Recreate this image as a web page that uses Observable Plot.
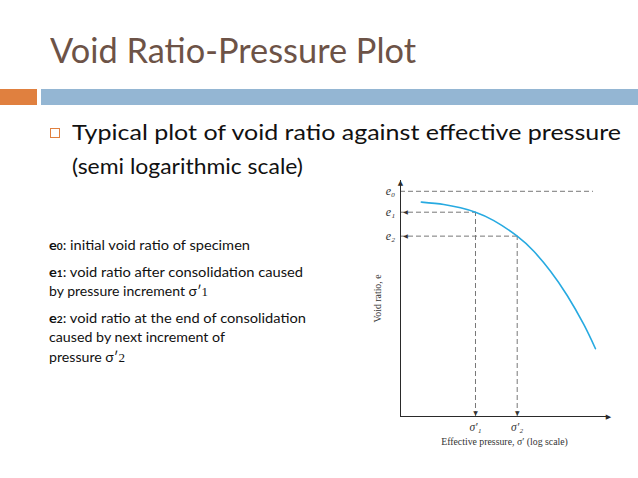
<!DOCTYPE html>
<html>
<head>
<meta charset="utf-8">
<script src="https://cdn.jsdelivr.net/npm/d3@7"></script>
<script src="https://cdn.jsdelivr.net/npm/@observablehq/plot@0.6"></script>
<style>
  html, body { margin: 0; padding: 0; background: #ffffff; width: 638px; height: 478px; overflow: hidden; }
  body { position: relative; font-family: Lato, "Open Sans", "Noto Sans", sans-serif; }
  .t { position: absolute; white-space: nowrap; line-height: 1; transform-origin: 0 0; }
  #title { font-size: 35px; color: #6d5347; }
  .body1 { font-size: 22px; color: #111111; }
  .note { font-size: 13px; color: #111111; }
  .note b { font-weight: 700; }
  .note .sub { font-size: 9px; font-weight: 700; }
  .ser { font-family: "Liberation Serif", "DejaVu Serif", serif; font-size: 12px; }
  #barO { position: absolute; left: 0; top: 89px; width: 37px; height: 16px; background: #e0803f; }
  #barB { position: absolute; left: 41px; top: 89px; width: 597px; height: 16px; background: #94b6d3; }
  #bullet { position: absolute; left: 50px; top: 128px; width: 8px; height: 8px; border: 1.4px solid #e0803f; }
  #chart { position: absolute; left: 340px; top: 170px; }
</style>
</head>
<body>
<div id="title" class="t">Void Ratio-Pressure Plot</div>
<div id="barO"></div>
<div id="barB"></div>
<div id="bullet"></div>
<div id="b1" class="t body1">Typical plot of void ratio against effective pressure</div>
<div id="b2" class="t body1">(semi logarithmic scale)</div>
<div id="n1" class="t note"><b>e</b><span class="sub">0</span>: initial void ratio of specimen</div>
<div id="n2" class="t note"><b>e</b><span class="sub">1</span>: void ratio after consolidation caused</div>
<div id="n3" class="t note">by pressure increment σ′<span class="ser">1</span></div>
<div id="n4" class="t note"><b>e</b><span class="sub">2</span>: void ratio at the end of consolidation</div>
<div id="n5" class="t note">caused by next increment of</div>
<div id="n6" class="t note">pressure σ′<span class="ser">2</span></div>
<div id="chart"></div>
<script>
// ---- data (pressure on log scale, void ratio linear) ----
const pressure  = [2, 4.21, 7.34, 12.07, 22.2, 48.2, 83.7, 145.7, 253.7, 440, 649];
const voidRatio = [0.936, 0.929, 0.919, 0.906, 0.881, 0.835, 0.790, 0.731, 0.659, 0.573, 0.501];
const eLevels   = [0.968, 0.906, 0.835];          // e0, e1, e2
const eLabels   = ["e₀", "e₁", "e₂"];
const sigmaValues = [12.07, 48.2];                // σ'1, σ'2
const sigmaLabels = ["σ′₁", "σ′₂"];
const e0LineEnd = 608;                            // pressure where the e0 guide stops
const xDomain = [1, 1000];
const yDomain = [0.3, 1.0];
const xTitle = "Effective pressure, σ′ (log scale)";
const yTitle = "Void ratio, e";

// ---- tables built from the arrays ----
const curve = pressure.map((p, i) => ({p, e: voidRatio[i]}));
const levels = eLevels.map((e, i) => ({e, label: eLabels[i]}));
const guides = sigmaValues.map((p, i) => ({p, e: eLevels[i + 1], label: sigmaLabels[i]}));

const serif = "Liberation Serif, DejaVu Serif, serif";
const dash = {stroke: "#777777", strokeWidth: 1, strokeDasharray: "5,3"};
const axisColor = "#2a2a2a";

const chart = Plot.plot({
  width: 290,
  height: 290,
  marginLeft: 60,
  marginRight: 22,
  marginTop: 10,
  marginBottom: 44,
  style: {background: "transparent", overflow: "visible", fontFamily: serif},
  x: {type: "log", domain: xDomain, axis: null},
  y: {domain: yDomain, axis: null},
  marks: [
    // dashed guides
    Plot.ruleY([levels[0]], {y: "e", x1: xDomain[0], x2: e0LineEnd, ...dash}),
    Plot.ruleY(guides, {y: "e", x1: xDomain[0], x2: "p", ...dash}),
    Plot.ruleX(guides, {x: "p", y1: yDomain[0], y2: "e", ...dash}),
    // guide arrowheads
    Plot.text(guides, {x: xDomain[0], y: "e", text: () => "◀", dx: 5, fontSize: 6, fill: "#333", fontFamily: "DejaVu Sans"}),
    Plot.text(guides, {x: "p", y: yDomain[0], text: () => "▼", dy: -3, fontSize: 6, fill: "#333", fontFamily: "DejaVu Sans"}),
    // axes with arrowheads
    Plot.ruleX([xDomain[0]], {y1: yDomain[0], y2: yDomain[1], stroke: axisColor, strokeWidth: 1}),
    Plot.ruleY([yDomain[0]], {x1: xDomain[0], x2: xDomain[1], stroke: axisColor, strokeWidth: 1}),
    Plot.text([yDomain[1]], {x: xDomain[0], y: d => d, text: () => "▲", dy: 2, fontSize: 7, fill: axisColor, fontFamily: "DejaVu Sans"}),
    Plot.text([xDomain[1]], {x: d => d, y: yDomain[0], text: () => "▶", dx: 0, fontSize: 7, fill: axisColor, fontFamily: "DejaVu Sans"}),
    // curve
    Plot.line(curve, {x: "p", y: "e", stroke: "#27aae1", strokeWidth: 1.6, curve: "natural"}),
    // labels
    Plot.text(levels, {x: xDomain[0], y: "e", text: "label", dx: -10, fontSize: 12, fontStyle: "italic", fill: "#333"}),
    Plot.text(guides, {x: "p", y: yDomain[0], text: "label", dy: 11, fontSize: 11.5, fontStyle: "italic", fill: "#333"}),
    Plot.text([xTitle], {frameAnchor: "bottom", text: d => d, dy: 28, fontSize: 9.8, fill: "#333"}),
    Plot.text([yTitle], {frameAnchor: "left", textAnchor: "middle", text: d => d, rotate: -90, dx: -23, fontSize: 9.8, fill: "#333"})
  ]
});
document.getElementById("chart").appendChild(chart);

// ---- place slide text: left edge, baseline and horizontal extent ----
function place(id, left, baseline, width, scaleOverride) {
  const el = document.getElementById(id);
  el.style.left = left + "px";
  el.style.top = "0px";
  let s = 1;
  if (scaleOverride) s = scaleOverride;
  else if (width) s = width / el.getBoundingClientRect().width;
  const m = document.createElement("span");
  m.style.cssText = "display:inline-block;width:0;height:0;vertical-align:baseline";
  el.appendChild(m);
  const b = m.getBoundingClientRect().top;
  el.style.top = (baseline - b) + "px";
  el.style.transform = "scaleX(" + s + ")";
  return s;
}
place("title", 50, 63, 366);
place("b1", 72, 140, 549);
place("b2", 72, 174, 231);
place("n1", 49, 250, 201);
place("n2", 49, 277, 254);
place("n3", 49, 296, 159);
place("n4", 49, 323, 257);
place("n5", 49, 342, 176);
place("n6", 49, 362, 76);
</script>
</body>
</html>
